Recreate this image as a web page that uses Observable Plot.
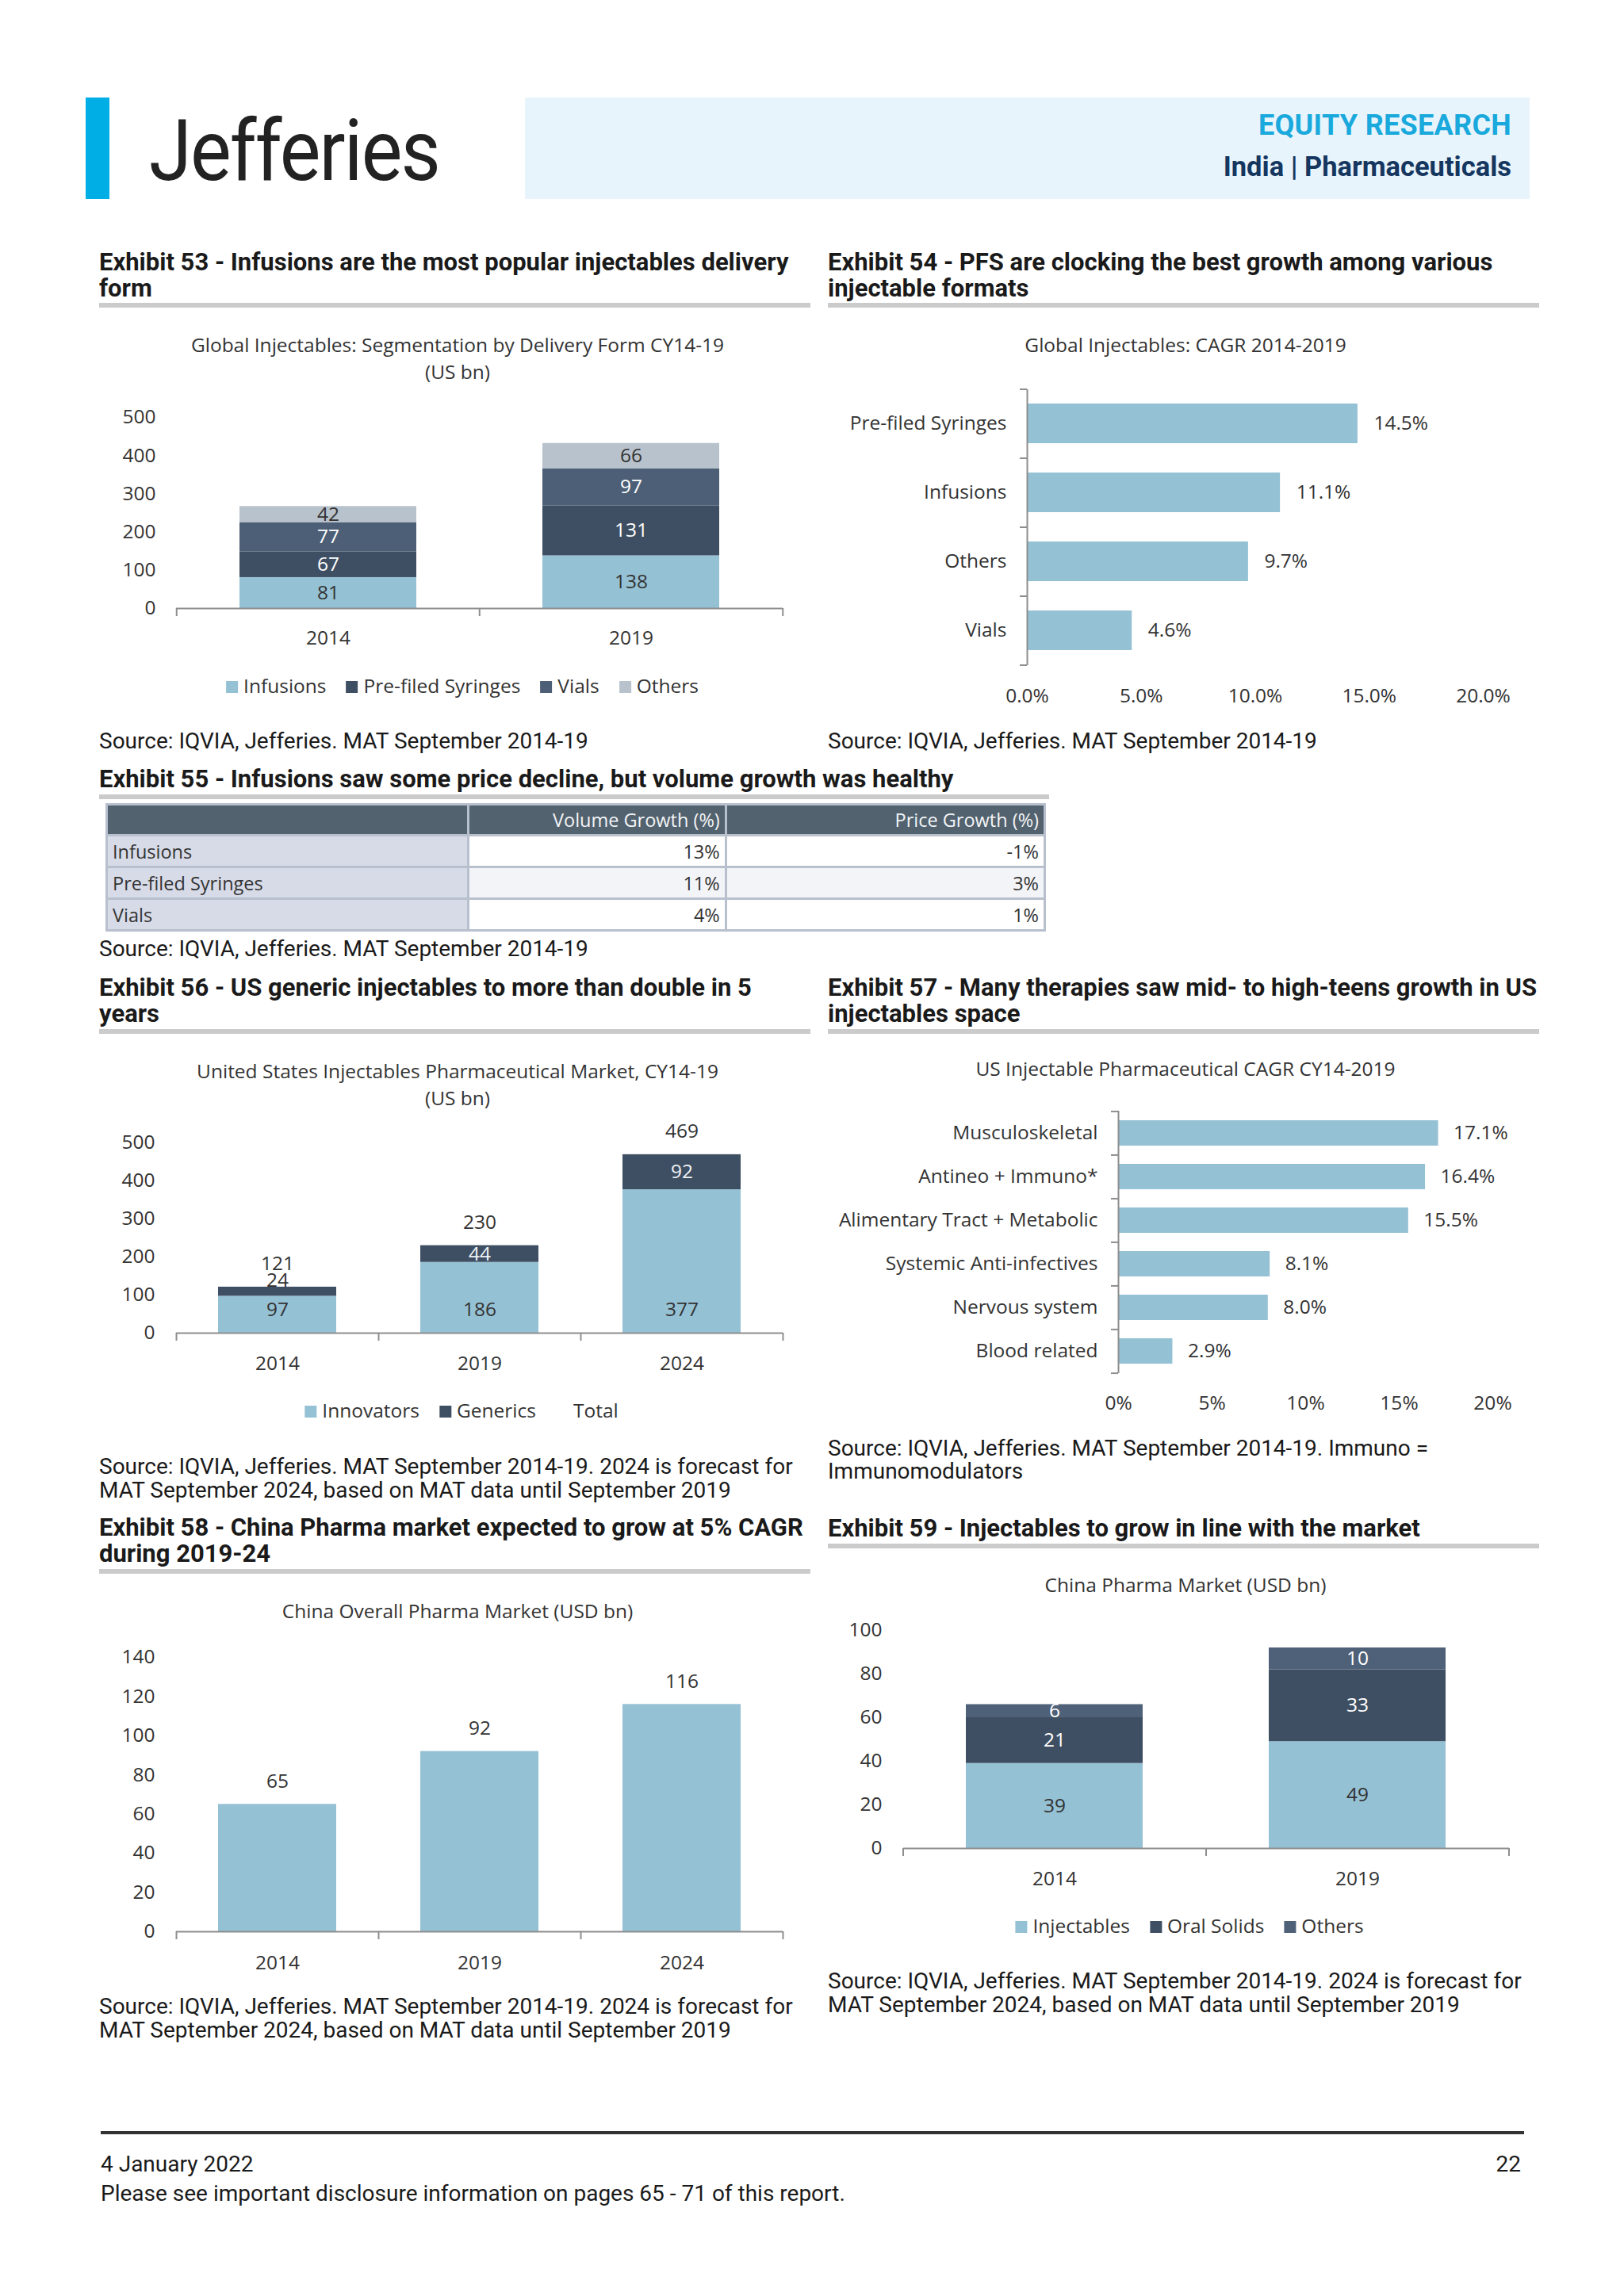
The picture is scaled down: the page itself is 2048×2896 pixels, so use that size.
<!DOCTYPE html>
<html>
<head>
<meta charset="utf-8">
<script src="https://cdn.jsdelivr.net/npm/d3@7"></script>
<script src="https://cdn.jsdelivr.net/npm/@observablehq/plot@0.6"></script>
<style>
  html, body { margin: 0; padding: 0; background: #fff; }
  #page { position: relative; width: 2048px; height: 2896px; overflow: hidden; background: #fff; font-family: Roboto, sans-serif; color: #1a1a1a; }
  .chart svg { overflow: visible; }
  .chart text { font-family: "Open Sans", sans-serif; font-size: 24.5px; }
  table.t55 { position: absolute; border-collapse: collapse; font-family: "Open Sans", sans-serif; font-size: 23.5px; color: #333; }
  table.t55 td, table.t55 th { border: 3px solid #b8c0ce; padding: 0 6px; height: 37px; white-space: nowrap; font-weight: 400; }
</style>
</head>
<body>
<div id="page"></div>
<script>
// ---------------- DATA ----------------
// Exhibit 53
const c53Years = ["2014", "2019"];
const c53Series = ["Infusions", "Pre-filed Syringes", "Vials", "Others"];
const c53Infusions = [81, 138];
const c53PFS = [67, 131];
const c53Vials = [77, 97];
const c53Others = [42, 66];
const c53Ticks = [0, 100, 200, 300, 400, 500];
// Exhibit 54
const c54Cats = ["Pre-filed Syringes", "Infusions", "Others", "Vials"];
const c54Values = [14.5, 11.1, 9.7, 4.6];
const c54Ticks = [0, 5, 10, 15, 20];
// Exhibit 55
const t55Head = ["", "Volume Growth (%)", "Price Growth (%)"];
const t55Rows = ["Infusions", "Pre-filed Syringes", "Vials"];
const t55Volume = ["13%", "11%", "4%"];
const t55Price = ["-1%", "3%", "1%"];
// Exhibit 56
const c56Years = ["2014", "2019", "2024"];
const c56Series = ["Innovators", "Generics"];
const c56Innovators = [97, 186, 377];
const c56Generics = [24, 44, 92];
const c56Totals = [121, 230, 469];
const c56Ticks = [0, 100, 200, 300, 400, 500];
// Exhibit 57
const c57Cats = ["Musculoskeletal", "Antineo + Immuno*", "Alimentary Tract + Metabolic", "Systemic Anti-infectives", "Nervous system", "Blood related"];
const c57Values = [17.1, 16.4, 15.5, 8.1, 8.0, 2.9];
const c57Ticks = [0, 5, 10, 15, 20];
// Exhibit 58
const c58Years = ["2014", "2019", "2024"];
const c58Values = [65, 92, 116];
const c58Ticks = [0, 20, 40, 60, 80, 100, 120, 140];
// Exhibit 59
const c59Years = ["2014", "2019"];
const c59Series = ["Injectables", "Oral Solids", "Others"];
const c59Injectables = [39, 49];
const c59OralSolids = [21, 33];
const c59Others = [6, 10];
const c59Ticks = [0, 20, 40, 60, 80, 100];

// ---------------- STYLE ----------------
const LIGHT = "#95c1d4", DARK = "#3f4f63", SLATE = "#4c5f76", GRAY = "#b8c2cc", SLATE2 = "#4f6178";
const AXIS = "#8e8e8e", TXT = "#333333", WHITE = "#ffffff";
const chartStyle = { fontFamily: "Open Sans", fontSize: "24.5px", color: TXT, background: "none", overflow: "visible" };

const page = document.getElementById("page");
const METRICS = { roboto: { fam: "Roboto, sans-serif", a: 0.928, c: 1.172 }, open: { fam: "'Open Sans', sans-serif", a: 1.069, c: 1.362 } };

function txt(s, x, base, { size = 28, font = "roboto", weight = 400, color = "#1a1a1a", anchor = "start", lh = null, ls = null } = {}) {
  const f = METRICS[font];
  const L = lh || Math.round(size * 1.2);
  const el = document.createElement("div");
  Object.assign(el.style, { position: "absolute", whiteSpace: "pre", fontFamily: f.fam, fontSize: size + "px", fontWeight: weight, color, lineHeight: L + "px" });
  if (ls != null) el.style.letterSpacing = ls + "px";
  el.style.top = (base - ((L - f.c * size) / 2 + f.a * size)) + "px";
  if (anchor === "start") el.style.left = x + "px";
  else if (anchor === "end") { el.style.right = (2048 - x) + "px"; el.style.textAlign = "right"; }
  else { el.style.left = x + "px"; el.style.transform = "translateX(-50%)"; el.style.textAlign = "center"; }
  el.textContent = s;
  page.appendChild(el);
  return el;
}
function box(x, y, w, h, color) {
  const el = document.createElement("div");
  Object.assign(el.style, { position: "absolute", left: x + "px", top: y + "px", width: w + "px", height: h + "px", background: color });
  page.appendChild(el);
  return el;
}
function put(svg, left, top) {
  const d = document.createElement("div");
  d.className = "chart";
  Object.assign(d.style, { position: "absolute", left: left + "px", top: top + "px" });
  d.appendChild(svg);
  page.appendChild(d);
}
function legend(items, cx, base) {
  const f = METRICS.open, size = 24.5, L = 32;
  const el = document.createElement("div");
  Object.assign(el.style, { position: "absolute", left: cx + "px", transform: "translateX(-50%)", display: "flex", alignItems: "center",
    fontFamily: f.fam, fontSize: size + "px", color: TXT, lineHeight: L + "px", whiteSpace: "nowrap" });
  el.style.top = (base - ((L - f.c * size) / 2 + f.a * size)) + "px";
  items.forEach(([label, color], i) => {
    const it = document.createElement("span");
    Object.assign(it.style, { display: "flex", alignItems: "center", marginLeft: i ? "25px" : "0" });
    const sw = document.createElement("span");
    Object.assign(sw.style, { display: "inline-block", width: "15px", height: "15px", background: color || "transparent", marginRight: "7px", marginTop: "2px" });
    it.appendChild(sw);
    it.appendChild(document.createTextNode(label));
    el.appendChild(it);
  });
  page.appendChild(el);
}

// ---------------- CHART BUILDERS ----------------
function boundaryTicks(years, step) {
  return [
    Plot.ruleY([0], { stroke: AXIS, strokeWidth: 2 }),
    Plot.ruleX(years, { x: d => d, y1: 0, y2: 0, insetBottom: -10, dx: -step / 2, stroke: AXIS, strokeWidth: 2 }),
    Plot.ruleX(years.slice(-1), { x: d => d, y1: 0, y2: 0, insetBottom: -10, dx: step / 2, stroke: AXIS, strokeWidth: 2 })
  ];
}
function columnPlot({ years, domain, ticks, W, H, mt, mb, ml, mr, xpad, ypad, color, marks }) {
  const step = (W - ml - mr) / years.length;
  const opts = {
    width: W, height: H, marginTop: mt, marginBottom: mb, marginLeft: ml, marginRight: mr,
    style: chartStyle,
    x: { domain: years, paddingInner: 0.415, paddingOuter: 0.2075, tickSize: 0, tickPadding: xpad, label: null },
    y: { domain, ticks, tickSize: 0, tickPadding: ypad, label: null },
    marks: [...marks, ...boundaryTicks(years, step)]
  };
  if (color) opts.color = color;
  return Plot.plot(opts);
}
function barPlot({ cats, values, ticks, tickFmt, fmt, W, H, mt, mb, ml, mr, xpad, ypad, labelDx }) {
  const step = (H - mt - mb) / cats.length;
  const rows = cats.map((c, i) => ({ cat: c, value: values[i] }));
  return Plot.plot({
    width: W, height: H, marginTop: mt, marginBottom: mb, marginLeft: ml, marginRight: mr,
    style: chartStyle,
    x: { domain: [ticks[0], ticks[ticks.length - 1]], ticks, tickFormat: tickFmt, tickSize: 0, tickPadding: xpad, label: null },
    y: { domain: cats, paddingInner: 0.42, paddingOuter: 0.21, tickSize: 0, tickPadding: ypad, label: null },
    marks: [
      Plot.barX(rows, { x: "value", y: "cat", fill: LIGHT }),
      Plot.text(rows, { x: "value", y: "cat", text: d => fmt(d.value), dx: labelDx, textAnchor: "start", fill: TXT }),
      Plot.ruleX([0], { stroke: AXIS, strokeWidth: 2 }),
      Plot.ruleY(cats, { y: d => d, x1: 0, x2: 0, insetLeft: -9, dy: -step / 2, stroke: AXIS, strokeWidth: 2 }),
      Plot.ruleY(cats.slice(-1), { y: d => d, x1: 0, x2: 0, insetLeft: -9, dy: step / 2, stroke: AXIS, strokeWidth: 2 })
    ]
  });
}
function tidy(years, series, arrays) {
  const rows = [];
  series.forEach((s, si) => years.forEach((y, yi) => rows.push({ year: y, series: s, value: arrays[si][yi] })));
  return rows;
}

// ---------------- HEADER ----------------
box(108, 123, 30, 128, "#00aee6");
box(662, 123, 1267, 128, "#e8f4fc");
const logo = txt("Jefferies", 188, 227, { size: 108, weight: 400, color: "#222" });
logo.style.transformOrigin = "0 0";
logo.style.letterSpacing = "-2px";
{ const w = logo.getBoundingClientRect().width; if (w > 0) logo.style.transform = `scaleX(${366 / w})`; }
txt("EQUITY RESEARCH", 1906, 171, { size: 36, weight: 700, color: "#1aa9dc", anchor: "end", ls: 0.3 });
txt("India | Pharmaceuticals", 1906, 222, { size: 34.5, weight: 700, color: "#15375f", anchor: "end" });

// ---------------- EXHIBIT TITLES & RULES ----------------
const T = { size: 31, weight: 700, color: "#1a1a1a", lh: 33 };
txt("Exhibit 53 - Infusions are the most popular injectables delivery\nform", 125, 341, T);
txt("Exhibit 54 - PFS are clocking the best growth among various\ninjectable formats", 1044, 341, T);
box(125, 382, 897, 6, "#cbcbcb");
box(1044, 382, 897, 6, "#cbcbcb");
txt("Exhibit 55 - Infusions saw some price decline, but volume growth was healthy", 125, 993, T);
box(125, 1002, 1198, 6, "#cbcbcb");
txt("Exhibit 56 - US generic injectables to more than double in 5\nyears", 125, 1256, T);
txt("Exhibit 57 - Many therapies saw mid- to high-teens growth in US\ninjectables space", 1044, 1256, T);
box(125, 1298, 897, 6, "#cbcbcb");
box(1044, 1298, 897, 6, "#cbcbcb");
txt("Exhibit 58 - China Pharma market expected to grow at 5% CAGR\nduring 2019-24", 125, 1937, T);
txt("Exhibit 59 - Injectables to grow in line with the market", 1044, 1938, T);
box(125, 1979, 897, 6, "#cbcbcb");
box(1044, 1947, 897, 6, "#cbcbcb");

// ---------------- SOURCES ----------------
const S = { size: 28, lh: 30 };
const src1 = "Source: IQVIA, Jefferies. MAT September 2014-19";
const src2 = "Source: IQVIA, Jefferies. MAT September 2014-19. 2024 is forecast for\nMAT September 2024, based on MAT data until September 2019";
txt(src1, 125, 945, S);
txt(src1, 1044, 945, S);
txt(src1, 125, 1207, S);
txt(src2, 125, 1860, S);
txt("Source: IQVIA, Jefferies. MAT September 2014-19. Immuno =\nImmunomodulators", 1044, 1836, { size: 28, lh: 29 });
txt(src2, 125, 2541, S);
txt(src2, 1044, 2509, S);

// ---------------- CHART TITLES ----------------
const CT = { size: 24.5, font: "open", color: TXT, anchor: "middle", lh: 34 };
txt("Global Injectables: Segmentation by Delivery Form CY14-19\n(US bn)", 577, 445, CT);
txt("Global Injectables: CAGR 2014-2019", 1495, 445, CT);
txt("United States Injectables Pharmaceutical Market, CY14-19\n(US bn)", 577, 1361, CT);
txt("US Injectable Pharmaceutical CAGR CY14-2019", 1495, 1358, CT);
txt("China Overall Pharma Market (USD bn)", 577, 2042, CT);
txt("China Pharma Market (USD bn)", 1495, 2009, CT);

// ---------------- EXHIBIT 53 ----------------
{
  const colors = [LIGHT, DARK, SLATE, GRAY];
  const labelColors = [TXT, WHITE, WHITE, TXT];
  const rows = tidy(c53Years, c53Series, [c53Infusions, c53PFS, c53Vials, c53Others]);
  rows.forEach(r => r.lc = labelColors[c53Series.indexOf(r.series)]);
  const chart = columnPlot({
    years: c53Years, domain: [0, 500], ticks: c53Ticks, W: 897, H: 340, mt: 26, mb: 73, ml: 97, mr: 35, xpad: 28, ypad: 26,
    color: { domain: c53Series, range: colors },
    marks: [
      Plot.barY(rows, { x: "year", y: "value", fill: "series" }),
      ...[TXT, WHITE].map(c => Plot.text(rows, Plot.stackY({ x: "year", y: "value", z: "series", text: d => d.lc === c ? String(d.value) : "", fill: c })))
    ]
  });
  put(chart, 125, 500);
  legend(c53Series.map((s, i) => [s, colors[i]]), 583, 875);
}

// ---------------- EXHIBIT 54 ----------------
put(barPlot({ cats: c54Cats, values: c54Values, ticks: c54Ticks, tickFmt: d => d.toFixed(1) + "%", fmt: d => d.toFixed(1) + "%",
  W: 897, H: 440, mt: 21, mb: 71, ml: 251, mr: 71, xpad: 29, ypad: 26, labelDx: 20 }), 1044, 470);

// ---------------- EXHIBIT 55 (table) ----------------
{
  const tbl = document.createElement("table");
  tbl.className = "t55";
  Object.assign(tbl.style, { left: "133px", top: "1013px", width: "1186px" });
  const widths = [463, 318, 405];
  const trh = document.createElement("tr");
  t55Head.forEach((h, i) => {
    const th = document.createElement("th");
    th.textContent = h;
    Object.assign(th.style, { background: "#52626f", color: "#f2f4f6", textAlign: "right", width: widths[i] + "px", height: "36px" });
    trh.appendChild(th);
  });
  tbl.appendChild(trh);
  t55Rows.forEach((r, i) => {
    const tr = document.createElement("tr");
    [r, t55Volume[i], t55Price[i]].forEach((c, j) => {
      const td = document.createElement("td");
      td.textContent = c;
      td.style.textAlign = j ? "right" : "left";
      td.style.background = j === 0 ? "#d7dbe8" : (i === 1 ? "#f3f4f7" : "#ffffff");
      tr.appendChild(td);
    });
    tbl.appendChild(tr);
  });
  page.appendChild(tbl);
}

// ---------------- EXHIBIT 56 ----------------
{
  const rows = tidy(c56Years, c56Series, [c56Innovators, c56Generics]);
  const innov = rows.filter(r => r.series === "Innovators");
  const totals = c56Years.map((y, i) => ({ year: y, total: c56Totals[i] }));
  const chart = columnPlot({
    years: c56Years, domain: [0, 500], ticks: c56Ticks, W: 897, H: 340, mt: 21, mb: 79, ml: 97, mr: 35, xpad: 29, ypad: 27,
    color: { domain: c56Series, range: [LIGHT, DARK] },
    marks: [
      Plot.barY(rows, { x: "year", y: "value", fill: "series" }),
      Plot.text(innov, { x: "year", y: 0, dy: -29, text: d => String(d.value), fill: TXT }),
      Plot.text(rows, Plot.stackY({ x: "year", y: "value", z: "series", text: d => d.series === "Generics" && d.value >= 30 ? String(d.value) : "", fill: "#eef2f5" })),
      Plot.text(rows, Plot.stackY({ x: "year", y: "value", z: "series", text: d => d.series === "Generics" && d.value < 30 ? String(d.value) : "", fill: TXT, dy: -14 })),
      Plot.text(totals, { x: "year", y: "total", dy: -29, text: d => String(d.total), fill: TXT })
    ]
  });
  put(chart, 125, 1420);
  legend([["Innovators", LIGHT], ["Generics", DARK], ["Total", null]], 582, 1789);
}

// ---------------- EXHIBIT 57 ----------------
put(barPlot({ cats: c57Cats, values: c57Values, ticks: c57Ticks, tickFmt: d => d + "%", fmt: d => d.toFixed(1) + "%",
  W: 897, H: 440, mt: 21, mb: 88, ml: 366, mr: 59, xpad: 28, ypad: 26, labelDx: 19 }), 1044, 1380);

// ---------------- EXHIBIT 58 ----------------
{
  const rows = c58Years.map((y, i) => ({ year: y, value: c58Values[i] }));
  const chart = columnPlot({
    years: c58Years, domain: [0, 140], ticks: c58Ticks, W: 897, H: 440, mt: 20, mb: 74, ml: 97, mr: 35, xpad: 30, ypad: 27,
    marks: [
      Plot.barY(rows, { x: "year", y: "value", fill: LIGHT }),
      Plot.text(rows, { x: "year", y: "value", dy: -29, text: d => String(d.value), fill: TXT })
    ]
  });
  put(chart, 125, 2070);
}

// ---------------- EXHIBIT 59 ----------------
{
  const colors = [LIGHT, DARK, SLATE2];
  const labelColors = [TXT, WHITE, WHITE];
  const rows = tidy(c59Years, c59Series, [c59Injectables, c59OralSolids, c59Others]);
  rows.forEach(r => r.lc = labelColors[c59Series.indexOf(r.series)]);
  const chart = columnPlot({
    years: c59Years, domain: [0, 100], ticks: c59Ticks, W: 897, H: 360, mt: 26, mb: 59, ml: 95, mr: 38, xpad: 29, ypad: 27,
    color: { domain: c59Series, range: colors },
    marks: [
      Plot.barY(rows, { x: "year", y: "value", fill: "series" }),
      ...[TXT, WHITE].map(c => Plot.text(rows, Plot.stackY({ x: "year", y: "value", z: "series", text: d => d.lc === c ? String(d.value) : "", fill: c })))
    ]
  });
  put(chart, 1044, 2030);
  legend(c59Series.map((s, i) => [s, colors[i]]), 1500, 2439);
}

// ---------------- FOOTER ----------------
box(127, 2688, 1795, 4, "#333333");
txt("4 January 2022", 127, 2740, { size: 28 });
txt("22", 1918, 2740, { size: 28, anchor: "end" });
txt("Please see important disclosure information on pages 65 - 71 of this report.", 127, 2777, { size: 28 });
</script>
</body>
</html>
